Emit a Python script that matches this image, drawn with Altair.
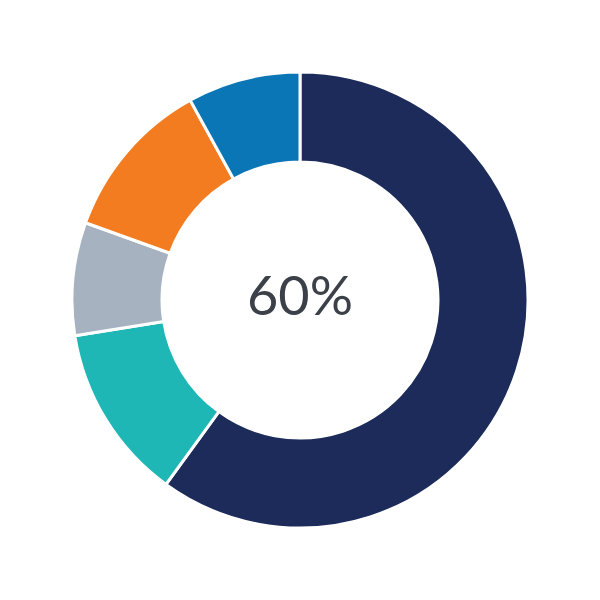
import altair as alt
import pandas as pd

segments = ["A", "B", "C", "D", "E"]
values = [60, 12.5, 8, 11.5, 8]
colors = ["#1c2b5a", "#1fb6b6", "#a7b2c1", "#f47c20", "#0a76b6"]
center_label = "60%"

df = pd.DataFrame({"segment": segments, "value": values, "order": list(range(len(segments)))})

arc = alt.Chart(df).mark_arc(radius=228, innerRadius=138, stroke="white", strokeWidth=3).encode(
    theta=alt.Theta("value:Q", stack=True),
    color=alt.Color("segment:N", scale=alt.Scale(domain=segments, range=colors), legend=None),
    order=alt.Order("order:Q"),
)

text = alt.Chart(pd.DataFrame({"t": [center_label]})).mark_text(
    font="Lato", fontSize=54, fontWeight="normal", color="#3b4049", align="center", baseline="middle", dy=-1
).encode(text="t:N")

chart = (arc + text).properties(
    width=584, height=584, padding=0, autosize=alt.AutoSizeParams(type="none")
).configure_view(stroke=None)

chart.save("out.html", embed_options={"renderer": "svg", "actions": False})
